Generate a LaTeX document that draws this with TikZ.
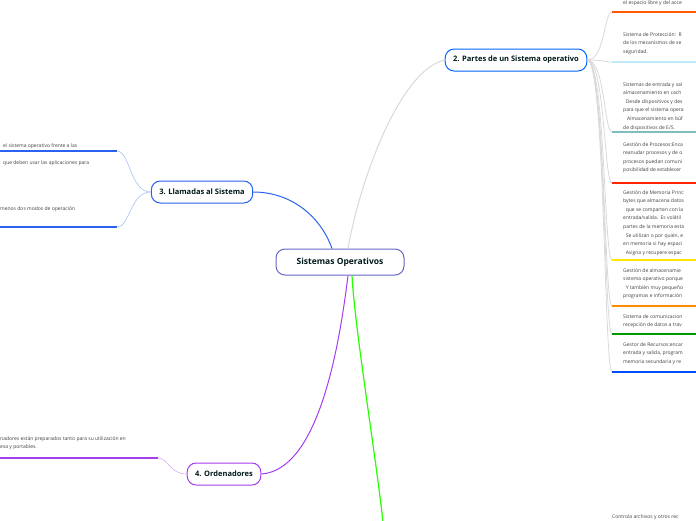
\documentclass[tikz,border=0pt]{standalone}
\usepackage{fontspec}
\setmainfont{Open Sans}
\definecolor{pur}{HTML}{A53DF0}
\definecolor{blu}{HTML}{2A62F0}
\begin{document}
\begin{tikzpicture}[x=1pt,y=-1pt,
 topic/.style={draw=#1,line width=1pt,rounded corners=9pt,fill=white,minimum height=22pt,inner xsep=8pt,font=\fontsize{7.5}{9}\selectfont\bfseries,text=black!80!teal},
 leaf/.style={anchor=north west,align=left,inner sep=0pt,font=\fontsize{5}{8.6}\selectfont,text=black!75},
 ul/.style={line width=1.2pt,draw=#1},
 br/.style={draw=black!15,line width=0.8pt}]
\useasboundingbox (0,0) rectangle (696,520);
\clip (0,0) rectangle (696,520);
\node[topic=black!40!blue!60,minimum width=128pt,minimum height=26pt,font=\fontsize{8.5}{10}\selectfont\bfseries] (c) at (340,262) {Sistemas Operativos};
\node[topic=blue!60!cyan] (p2) at (516,60) {2. Partes de un Sistema operativo};
\node[topic=blu] (p3) at (202,192) {3. Llamadas al Sistema};
\node[topic=pur] (p4) at (224,474) {4. Ordenadores};
\coordinate (g) at (383,522);
\draw[br,line width=1pt] ([xshift=8pt]c.north) .. controls (360,180) and (400,70) .. (p2.west);
\draw[blu,line width=1pt] ([xshift=-8pt]c.north) .. controls (320,215) and (290,192) .. (p3.east);
\draw[pur,line width=1pt] ([xshift=8pt]c.south) .. controls (340,340) and (320,470) .. (p4.east);
\draw[green!85!yellow,line width=1.2pt] ([xshift=12pt]c.south) .. controls (355,330) and (375,450) .. (g);
\foreach \y/\c in {12/orange!70!red,62/cyan!25,132/teal!50,183/red!70!orange,260/yellow!90!orange,306/orange!90!yellow,334/green!60!black,372/blue!70!cyan}{
 \coordinate (e\y) at (612,\y);
 \draw[br] (p2.east) .. controls (605,60) and (604,\y) .. (e\y);
 \draw[ul=\c] (e\y) -- (696,\y);
}
\node[leaf] (t1) at (623,0) {el espacio libre y del acce};
\node[leaf] (t2) at (623,32) {Sistema de Protección:\ \ R\\de los mecanismos de se\\seguridad.};
\node[leaf] (t3) at (623,82) {Sistemas de entrada y sal\\almacenamiento en cach\\\ \ Desde dispositivos y des\\para que el sistema opera\\\ \ \ Almacenamiento en búf\\de dispositivos de E/S.};
\node[leaf] (t4) at (623,142) {Gestión de Procesos:Enca\\reanudar procesos y de o\\procesos puedan comuni\\posibilidad de establecer};
\node[leaf] (t5) at (623,190) {Gestión de Memoria Princ\\bytes que almacena datos\\\ \ que se comparten con la\\entrada/salida.\ \ Es volátil\\partes de la memoria esta\\\ \ Se utilizan o por quién, e\\en memoria si hay espaci\\\ \ Asigna y recupere espac};
\node[leaf] (t6) at (623,268) {Gestión de almacenamie\\sistema operativo porque\\\ \ Y también muy pequeño\\programas e información};
\node[leaf] (t7) at (623,314) {Sistema de comunicacion\\recepción de datos a trav};
\node[leaf] (t8) at (623,342) {Gestor de Recursos:encar\\entrada y salida, program\\memoria secundaria y re};
\node[leaf] (t9) at (612,514) {Controla archivos y otros rec};
\coordinate (l1) at (117,151);
\coordinate (l2) at (117,227);
\draw[blu!40,line width=0.6pt] (p3.west) .. controls (130,192) and (130,151) .. (l1);
\draw[blu!40,line width=0.6pt] (p3.west) .. controls (130,192) and (130,227) .. (l2);
\draw[ul=blu] (0,151) -- (l1);
\draw[ul=blu] (0,227) -- (l2);
\node[leaf] (a1) at (3,143) {el sistema operativo frente a las};
\node[leaf] (a2) at (3,160) {que deben usar las aplicaciones para};
\node[leaf] (a3) at (0,206) {menos dos modos de operación};
\coordinate (o1) at (158,458);
\draw[pur!40,line width=0.6pt] (p4.west) .. controls (170,474) and (168,458) .. (o1);
\draw[ul=pur] (0,458) -- (o1);
\node[leaf] (b1) at (0,436) {nadores están preparados tanto para su utilización en\\esa y portables.};
\end{tikzpicture}
\end{document}
